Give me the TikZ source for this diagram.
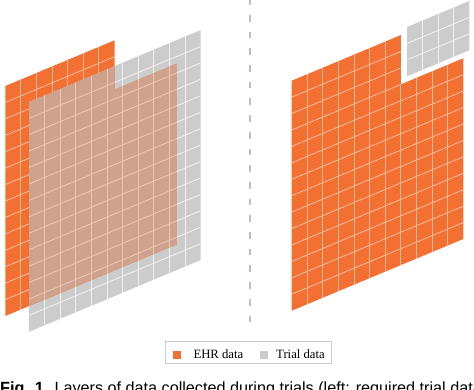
\documentclass[tikz,border=0pt]{standalone}
\usepackage{fontspec}
\setmainfont{Liberation Serif}
\newfontfamily\capfont{Liberation Sans}
\definecolor{ehr}{RGB}{243,112,50}
\definecolor{ehrline}{RGB}{250,184,148}
\definecolor{trial}{RGB}{204,204,204}
\definecolor{trialline}{RGB}{240,240,240}
\definecolor{overlap}{RGB}{206,162,140}
\definecolor{overlapline}{RGB}{236,198,178}
\definecolor{divider}{RGB}{190,190,190}
\newcommand\ehrpanel{%
  \fill[ehr] (0,0) -- (7,0) -- (7,3) -- (11,3) -- (11,14) -- (0,14) -- cycle;
  \foreach \c in {1,...,6} \draw[ehrgrid] (\c,0) -- (\c,14);
  \foreach \c in {7,...,10} \draw[ehrgrid] (\c,3) -- (\c,14);
  \foreach \r in {1,2,3} \draw[ehrgrid] (0,\r) -- (7,\r);
  \foreach \r in {4,...,13} \draw[ehrgrid] (0,\r) -- (11,\r);
}
\newcommand\gridlines[3]{% cols, rows, style
  \pgfmathtruncatemacro\lastc{#1-1}%
  \pgfmathtruncatemacro\lastr{#2-1}%
  \foreach \c in {1,...,\lastc} \draw[#3] (\c,0) -- (\c,#2);
  \foreach \r in {1,...,\lastr} \draw[#3] (0,\r) -- (#1,\r);
}
\newcommand\trialpanel[2]{% cols, rows
  \fill[trial] (0,0) -- (#1,0) -- (#1,#2) -- (0,#2) -- cycle;
  \gridlines{#1}{#2}{trialgrid}
}
\begin{document}
\begin{tikzpicture}[x=1pt,y=-1pt,
  panel/.style={x={(15.6pt,6.52pt)}, y={(0pt,-16.43pt)}},
  ehrgrid/.style={ehrline, line width=0.9pt},
  trialgrid/.style={trialline, line width=0.9pt},
  ovgrid/.style={overlapline, line width=0.9pt},
  legendbox/.style={draw=trial, line width=0.8pt, inner sep=0pt},
  swatch/.style={minimum size=8pt, inner sep=0pt},
  legtext/.style={font=\fontsize{12.7}{14}\selectfont, inner sep=0pt, anchor=base west}]
\useasboundingbox (0,0) rectangle (474,390);

% ---------- left picture ----------
\begin{scope}[shift={(29,101.8)}, panel]
  \trialpanel{11}{14}
  \coordinate (gA) at (0,0); \coordinate (gB) at (11,0);
  \coordinate (gC) at (11,14); \coordinate (gD) at (0,14);
\end{scope}
\begin{scope}[shift={(5.3,86)}, panel]
  \ehrpanel
  \coordinate (oA) at (0,0); \coordinate (oB) at (7,0);
  \coordinate (oC) at (7,3); \coordinate (oD) at (11,3);
  \coordinate (oE) at (11,14); \coordinate (oF) at (0,14);
\end{scope}
\begin{scope}
  \clip (gA) -- (gB) -- (gC) -- (gD) -- cycle;
  \clip (oA) -- (oB) -- (oC) -- (oD) -- (oE) -- (oF) -- cycle;
  \fill[overlap] (oA) -- (oB) -- (oC) -- (oD) -- (oE) -- (oF) -- cycle;
  \begin{scope}[shift={(29,101.8)}, panel]
    \gridlines{11}{14}{ovgrid}
  \end{scope}
\end{scope}

% ---------- divider ----------
\coordinate (divtop) at (250,-1.7);
\coordinate (divbot) at (250,331);
\draw[divider, line width=1.2pt, dash pattern=on 6.7pt off 10pt] (divtop) -- (divbot);

% ---------- right picture ----------
\begin{scope}[shift={(291.7,80.7)}, panel]
  \ehrpanel
\end{scope}
\begin{scope}[shift={(407,27)}, panel]
  \trialpanel{4}{3}
\end{scope}

% ---------- legend ----------
\node[legendbox, minimum width=166.7pt, minimum height=21.7pt] (legend) at (248.35,352.15) {};
\node[swatch, fill=ehr] (ehrsw) at (176.7,355.3) {};
\node[legtext] (ehrtxt) at (193.3,358.7) {EHR data};
\node[swatch, fill=trial] (trialsw) at (263.7,355.3) {};
\node[legtext] (trialtxt) at (276,358.7) {Trial data};

% ---------- caption (cut off by the frame, as in the reference) ----------
\node[anchor=base west, inner sep=0pt, font=\capfont\fontsize{16.2}{18}\selectfont] (caption) at (0,393.3)
  {\textbf{Fig. 1.} Layers of data collected during trials (left: required trial data};
\end{tikzpicture}
\end{document}
